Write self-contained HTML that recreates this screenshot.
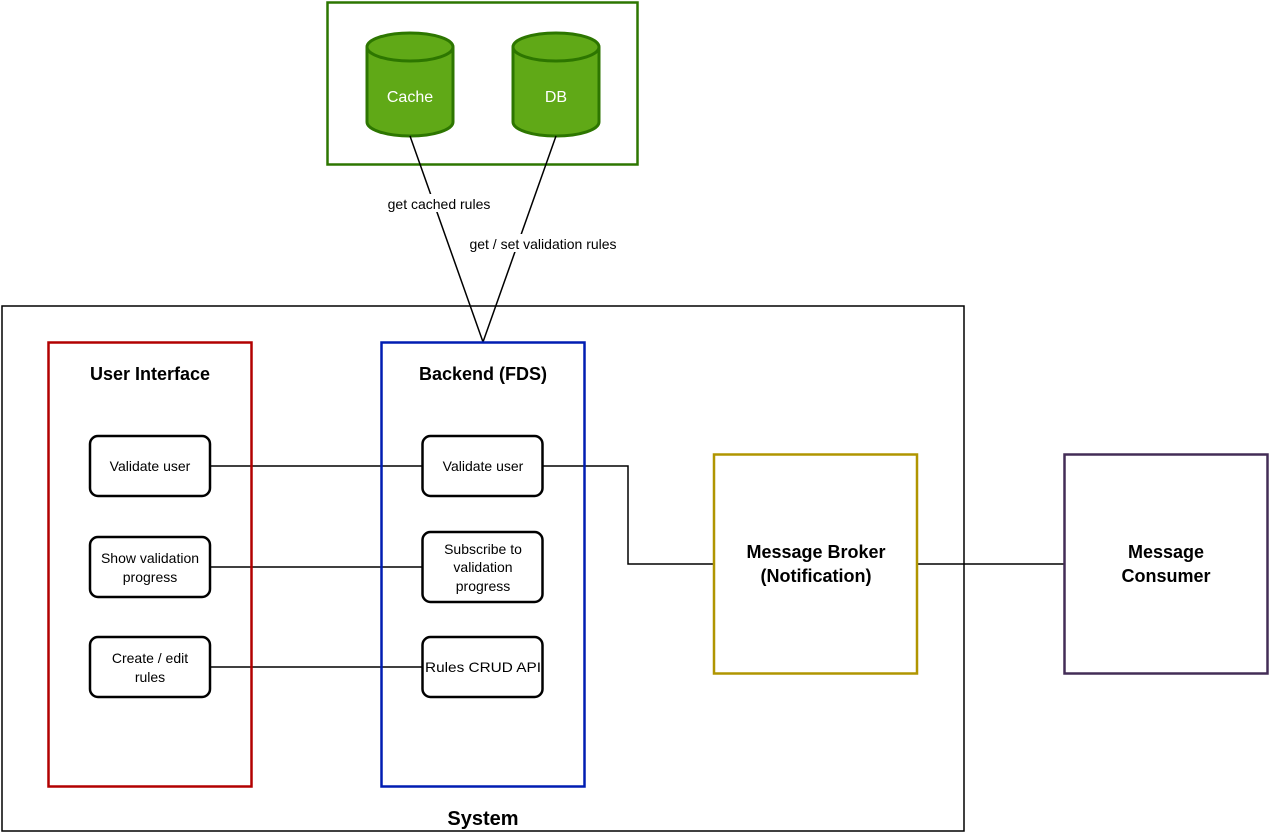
<!DOCTYPE html>
<html><head><meta charset="utf-8"><style>html,body{margin:0;padding:0;background:#fff}svg{display:block}</style></head>
<body>
<svg width="1269" height="833" viewBox="0 0 1269 833" xmlns="http://www.w3.org/2000/svg" font-family="Liberation Sans, Arial, sans-serif">
<rect x="0" y="0" width="1269" height="833" fill="#fff"/>
<rect x="2" y="306" width="962" height="525" fill="none" stroke="#000" stroke-width="1.5"/>
<text x="483" y="825" font-size="20" font-weight="bold" text-anchor="middle">System</text>
<rect x="327.5" y="2.5" width="310" height="162" fill="none" stroke="#2d7600" stroke-width="2.5"/>
<g stroke="#2d7600" stroke-width="3" fill="#60a917">
<path d="M367 47 v75 a43 14 0 0 0 86 0 v-75"/>
<ellipse cx="410" cy="47" rx="43" ry="14"/>
<path d="M513 47 v75 a43 14 0 0 0 86 0 v-75"/>
<ellipse cx="556" cy="47" rx="43" ry="14"/>
</g>
<text x="410" y="102" font-size="16" fill="#fff" text-anchor="middle">Cache</text>
<text x="556" y="102" font-size="16" fill="#fff" text-anchor="middle">DB</text>
<g stroke="#000" stroke-width="1.5" fill="none">
<line x1="410" y1="136" x2="483" y2="342"/>
<line x1="556" y1="136" x2="483" y2="342"/>
<line x1="210" y1="466" x2="422" y2="466"/>
<line x1="210" y1="567" x2="422" y2="567"/>
<line x1="210" y1="667" x2="422" y2="667"/>
<polyline points="543,466 628,466 628,564 714,564"/>
<line x1="917" y1="564" x2="1064" y2="564"/>
</g>
<rect x="383" y="194" width="112" height="18" fill="#fff"/>
<text x="439" y="209" font-size="14" text-anchor="middle">get cached rules</text>
<rect x="463" y="234" width="161" height="18" fill="#fff"/>
<text x="543" y="249" font-size="14" text-anchor="middle">get / set validation rules</text>
<rect x="48.5" y="342.5" width="203" height="444" fill="none" stroke="#b20000" stroke-width="2.5"/>
<text x="150" y="380" font-size="18" font-weight="bold" text-anchor="middle">User Interface</text>
<rect x="381.5" y="342.5" width="203" height="444" fill="none" stroke="#001db2" stroke-width="2.5"/>
<text x="483" y="380" font-size="18" font-weight="bold" text-anchor="middle">Backend (FDS)</text>
<g fill="#fff" stroke="#000" stroke-width="2.5">
<rect x="90" y="436" width="120" height="60" rx="8"/>
<rect x="90" y="537" width="120" height="60" rx="8"/>
<rect x="90" y="637" width="120" height="60" rx="8"/>
<rect x="422.5" y="436" width="120" height="60" rx="8"/>
<rect x="422.5" y="532" width="120" height="70" rx="8"/>
<rect x="422.5" y="637" width="120" height="60" rx="8"/>
</g>
<g font-size="14" text-anchor="middle">
<text x="150" y="471">Validate user</text>
<text x="150" y="563">Show validation</text>
<text x="150" y="582">progress</text>
<text x="150" y="663">Create / edit</text>
<text x="150" y="682">rules</text>
<text x="483" y="471">Validate user</text>
<text x="483" y="554">Subscribe to</text>
<text x="483" y="572">validation</text>
<text x="483" y="591">progress</text>
<text x="483" y="672" textLength="116" lengthAdjust="spacingAndGlyphs">Rules CRUD API</text>
</g>
<rect x="714" y="454.5" width="203" height="219" fill="#fff" stroke="#b09500" stroke-width="2.5"/>
<text x="816" y="558" font-size="18" font-weight="bold" text-anchor="middle">Message Broker</text>
<text x="816" y="582" font-size="18" font-weight="bold" text-anchor="middle">(Notification)</text>
<rect x="1064.5" y="454.5" width="203" height="219" fill="#fff" stroke="#432d57" stroke-width="2.5"/>
<text x="1166" y="558" font-size="18" font-weight="bold" text-anchor="middle">Message</text>
<text x="1166" y="582" font-size="18" font-weight="bold" text-anchor="middle">Consumer</text>
</svg>
</body></html>
